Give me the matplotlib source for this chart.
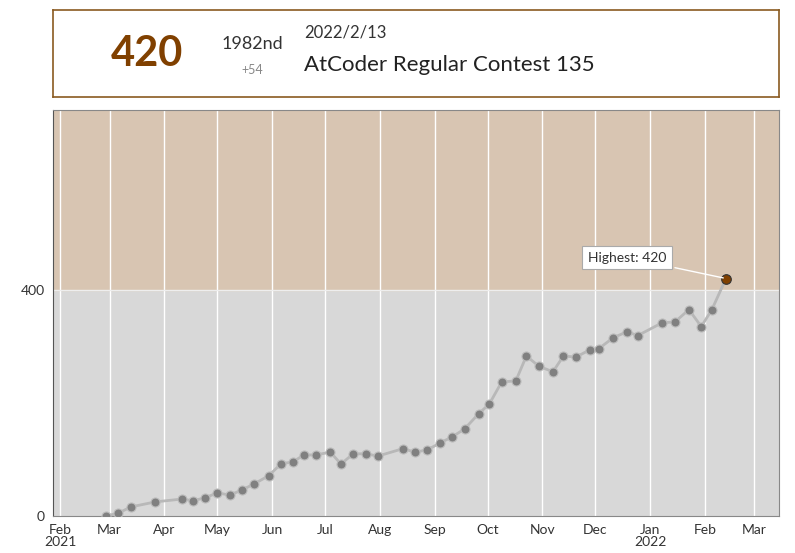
import matplotlib
matplotlib.use("Agg")
import matplotlib.pyplot as plt
import matplotlib.dates as mdates
import numpy as np

plt.rcParams['font.family'] = ['Lato', 'DejaVu Sans']

dates = ["2021-02-27", "2021-03-06", "2021-03-13", "2021-03-27", "2021-04-11", "2021-04-17",
         "2021-04-24", "2021-05-01", "2021-05-08", "2021-05-15", "2021-05-22", "2021-05-30",
         "2021-06-06", "2021-06-13", "2021-06-19", "2021-06-26", "2021-07-04", "2021-07-10",
         "2021-07-17", "2021-07-24", "2021-07-31", "2021-08-14", "2021-08-21", "2021-08-28",
         "2021-09-04", "2021-09-11", "2021-09-18", "2021-09-26", "2021-10-02", "2021-10-09",
         "2021-10-17", "2021-10-23", "2021-10-30", "2021-11-07", "2021-11-13", "2021-11-20",
         "2021-11-28", "2021-12-03", "2021-12-11", "2021-12-19", "2021-12-25", "2022-01-08",
         "2022-01-15", "2022-01-23", "2022-01-30", "2022-02-05", "2022-02-13"]
ratings = [0, 5, 16, 25, 30, 27, 32, 41, 37, 46, 57, 71, 92, 96, 108, 108, 113, 92, 110, 110,
           106, 119, 113, 117, 129, 140, 154, 181, 198, 237, 239, 283, 265, 255, 283, 281, 294,
           296, 315, 326, 319, 342, 343, 365, 335, 365, 420]
month_ticks = ["2021-02-01", "2021-03-01", "2021-04-01", "2021-05-01", "2021-06-01", "2021-07-01",
               "2021-08-01", "2021-09-01", "2021-10-01", "2021-11-01", "2021-12-01", "2022-01-01",
               "2022-02-01", "2022-03-01"]
month_labels = ["Feb\n2021", "Mar", "Apr", "May", "Jun", "Jul", "Aug", "Sep", "Oct", "Nov",
                "Dec", "Jan\n2022", "Feb", "Mar"]

x = [mdates.date2num(np.datetime64(d)) for d in dates]
xt = [mdates.date2num(np.datetime64(d)) for d in month_ticks]

fig = plt.figure(figsize=(7.95, 5.53), dpi=100)

# header box
hb = fig.add_axes([53/795, 1-97/553, 726/795, 87/553])
hb.set_xticks([]); hb.set_yticks([])
for s in hb.spines.values():
    s.set_color('#8a5a20'); s.set_linewidth(1.2)
hb.set_xlim(0, 726); hb.set_ylim(87, 0)
hb.text(94, 44, "420", fontsize=30, fontweight='bold', color='#804000', ha='center', va='center')
hb.text(199, 34, "1982nd", fontsize=13, color='#333333', ha='center', va='center')
hb.text(199, 60, "+54", fontsize=9, color='#888888', ha='center', va='center')
hb.text(251, 22, "2022/2/13", fontsize=12, color='#333333', ha='left', va='center')
hb.text(251, 55, "AtCoder Regular Contest 135", fontsize=16, color='#222222', ha='left', va='center')

ax = fig.add_axes([53/795, 1-516/553, 726/795, 406/553])
xmin = mdates.date2num(np.datetime64("2021-01-28"))
xmax = mdates.date2num(np.datetime64("2022-03-15"))
ax.set_xlim(xmin, xmax)
ax.set_ylim(0, 718)
ax.axhspan(0, 400, color='#d8d8d8', zorder=0)
ax.axhspan(400, 718, color='#d8c5b2', zorder=0)
for t in xt:
    ax.axvline(t, color='white', lw=1, zorder=1)
ax.axhline(400, color='#eeeeee', lw=1, zorder=1)

ax.plot(x, ratings, color='#b8b8b8', lw=2, zorder=2)
ax.scatter(x[:-1], ratings[:-1], s=42, color='#808080', edgecolors='#bbbbbb', linewidths=0.8, zorder=3)
ax.scatter(x[-1:], ratings[-1:], s=48, color='#804000', edgecolors='#333333', linewidths=0.8, zorder=4)

ax.annotate("Highest: 420", xy=(x[-1], ratings[-1]), xytext=(x[-1] - 56, ratings[-1] + 37),
            fontsize=10, color='#333333', ha='center', va='center',
            bbox=dict(boxstyle='square,pad=0.4', fc='white', ec='#aaaaaa', lw=0.8),
            arrowprops=dict(arrowstyle='-', color='white', lw=1), zorder=5)

ax.set_xticks(xt)
ax.set_xticklabels(month_labels, fontsize=10, color='#333333', linespacing=0.95)
ax.set_yticks([0, 400])
ax.set_yticklabels(["0", "400"], fontsize=10, color='#333333')
ax.tick_params(length=0, pad=6)
for s in ax.spines.values():
    s.set_color('#888888')
ax.spines['left'].set_color('#555555')

fig.savefig("out.png", dpi=100)
